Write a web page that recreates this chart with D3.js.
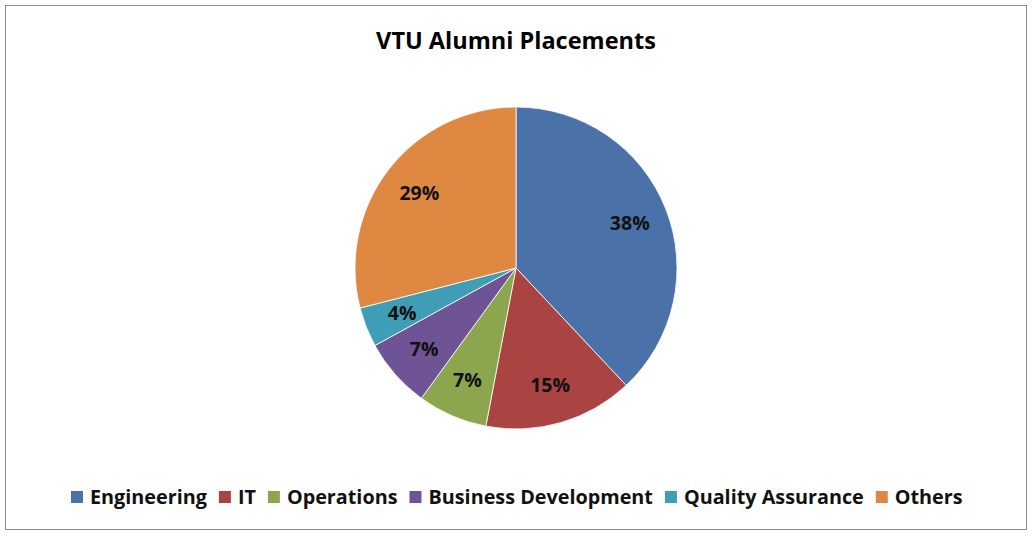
<!DOCTYPE html>
<html><head><meta charset="utf-8">
<script src="https://cdn.jsdelivr.net/npm/d3@7"></script>
<style>body{margin:0;background:#fff}text{font-family:"Open Sans","Liberation Sans",sans-serif}</style>
</head><body>
<svg id="chart" width="1032" height="539"></svg>
<script>
var categories=["Engineering","IT","Operations","Business Development","Quality Assurance","Others"];
var values=[38,15,7,7,4,29];
var colors=["#4A72A8","#A94442","#8BA64D","#6F5495","#3F9DB5","#DE8842"];

var svg=d3.select("#chart");
svg.append("rect").attr("x",5.5).attr("y",5.5).attr("width",1021).attr("height",524)
  .attr("fill","#fff").attr("stroke","#8c8c8c");
svg.append("text").attr("x",516).attr("y",49).attr("text-anchor","middle")
  .style("font-size","23.5px").style("font-weight","bold").text("VTU Alumni Placements");

var R=161, cx=516, cy=268;
var pie=d3.pie().sort(null).value(function(d){return d;});
var arc=d3.arc().innerRadius(0).outerRadius(R);
var lab=d3.arc().innerRadius(R*0.76).outerRadius(R*0.76);
var total=d3.sum(values);
var g=svg.append("g").attr("transform","translate("+cx+","+cy+")");
var arcs=pie(values);
g.selectAll("path").data(arcs).enter().append("path")
  .attr("d",arc).attr("fill",function(d,i){return colors[i];})
  .attr("stroke","#fff").attr("stroke-width",0.8);
g.selectAll("text").data(arcs).enter().append("text")
  .attr("transform",function(d){var c=lab.centroid(d);return "translate("+c[0]+","+c[1]+")";})
  .attr("text-anchor","middle").attr("dy","0.35em")
  .style("font-size","19.5px").style("font-weight","bold").attr("fill","#111")
  .text(function(d){return Math.round(d.value/total*100)+"%";});

var leg=svg.append("g");
var x=71;
categories.forEach(function(c,i){
  leg.append("rect").attr("x",x).attr("y",491).attr("width",12).attr("height",12).attr("fill",colors[i]);
  var t=leg.append("text").attr("x",x+19).attr("y",504).style("font-size","19.8px").style("font-weight","bold")
    .attr("fill","#111").text(c);
  x+=19+t.node().getComputedTextLength()+12;
});
</script>
</body></html>
